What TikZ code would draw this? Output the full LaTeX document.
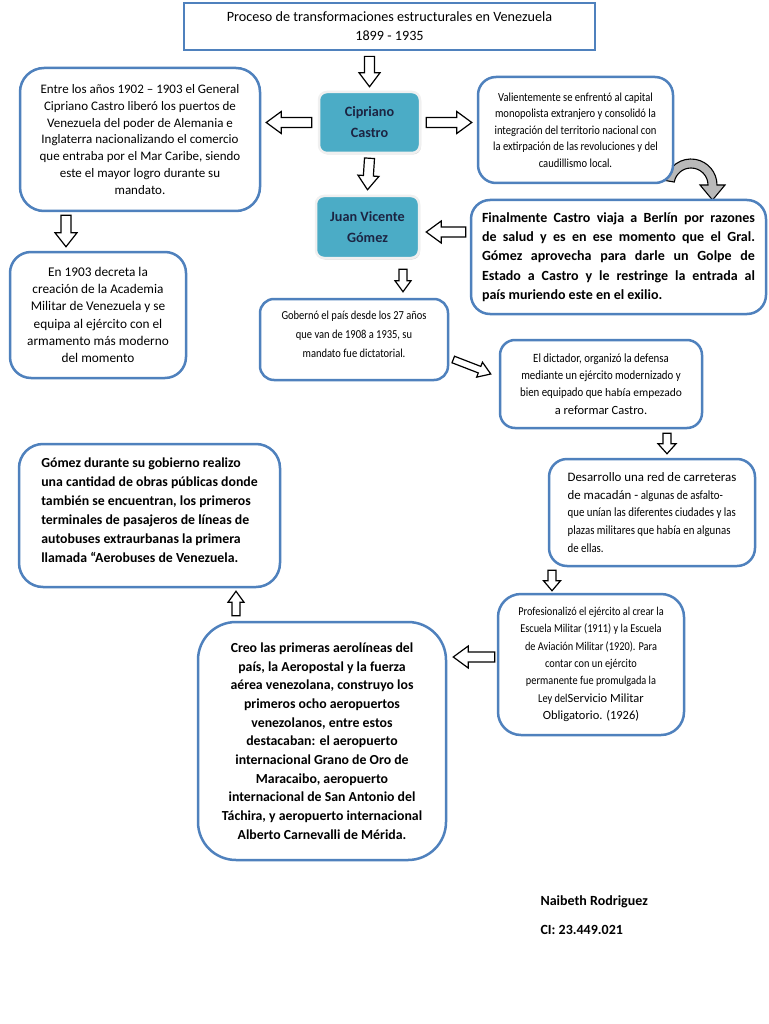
\documentclass[tikz,border=0pt]{standalone}
\usepackage{fontspec}
\setmainfont{Carlito}
\newfontfamily\narrowfont[FakeStretch=0.86]{Carlito}
\usetikzlibrary{calc,shadows}

\definecolor{boxblue}{RGB}{79,129,189}
\definecolor{cyanbox}{RGB}{75,172,198}
\definecolor{darktxt}{RGB}{28,36,66}

\tikzset{
  nota/.style={draw=boxblue, line width=2.5pt, fill=white, align=center, inner sep=0pt},
  prota/.style={draw=gray!12, line width=2.5pt, fill=cyanbox, rounded corners=8pt,
    drop shadow={opacity=0.3, shadow xshift=1pt, shadow yshift=-1.5pt},
    text=darktxt, align=center, font=\fontsize{14.2}{21}\selectfont\bfseries},
  barrow/.style n args={3}{draw=black, line width=1.2pt, fill=white, line join=miter,
    to path={($(\tikztotarget)!#3!(\tikztostart)$) coordinate (bh)
      ($(\tikztostart)!#1!90:(\tikztotarget)$) -- ($(bh)!#1!90:(\tikztotarget)$)
      -- ($(bh)!#2!90:(\tikztotarget)$) -- (\tikztotarget)
      -- ($(bh)!#2!-90:(\tikztotarget)$) -- ($(bh)!#1!-90:(\tikztotarget)$)
      -- ($(\tikztostart)!#1!-90:(\tikztotarget)$) -- cycle}},
}

\begin{document}
\begin{tikzpicture}[x=1pt,y=1pt]
%%%%% START %%%%%

\fill[white] (0,0) rectangle (768,-1024);
\useasboundingbox (0,0) rectangle (768,-1024);

% titulo
\node[draw=boxblue, line width=2.8pt, minimum width=411pt, minimum height=47pt, inner sep=0pt,
  align=center, font=\fontsize{14.2}{19}\selectfont] (tit) at (389.5,-26.5)
  {Proceso de transformaciones estructurales en Venezuela\\1899 - 1935};

% presidentes
\node[prota, minimum width=101pt, minimum height=61pt] (cip) at (369.5,-122.5) {Cipriano\\Castro};
\node[prota, minimum width=103pt, minimum height=62pt] (juan) at (367.5,-227) {Juan Vicente\\Gómez};

% flecha curva
\draw[fill=gray!55, line width=1.1pt, line join=miter] (691,-185) ++(170:26) arc[start angle=170, end angle=0, radius=26]
  -- ++(8,0) -- (712.5,-200) -- (700,-185) -- (708,-185) arc[start angle=0, end angle=170, radius=17] -- cycle;

% notas de Castro
\node[nota, rounded corners=24pt, minimum width=240pt, minimum height=143pt,
  font=\fontsize{13}{16.7}\selectfont] (castro1) at (140,-139.5)
  {Entre los años 1902 – 1903 el General\\Cipriano Castro liberó los puertos de\\Venezuela del poder de Alemania e\\Inglaterra nacionalizando el comercio\\que entraba por el Mar Caribe, siendo\\este el mayor logro durante su\\mandato.};
\node[nota, rounded corners=18pt, minimum width=195pt, minimum height=106pt,
  font=\narrowfont\fontsize{12.3}{16.5}\selectfont] (castro2) at (575.5,-130)
  {Valientemente se enfrentó al capital\\monopolista extranjero y consolidó la\\integración del territorio nacional con\\la extirpación de las revoluciones y del\\caudillismo local.};
\node[nota, rounded corners=21pt, minimum width=176pt, minimum height=126pt,
  font=\fontsize{13.3}{17.3}\selectfont] (academia) at (98,-315)
  {En 1903 decreta la\\creación de la Academia\\Militar de Venezuela y se\\equipa al ejército con el\\armamento más moderno\\del momento};
\node[nota, rounded corners=19pt, minimum width=295pt, minimum height=114pt, align=left,
  font=\fontsize{14}{19.3}\selectfont\bfseries] (final) at (618.5,-257)
  {\makebox[273pt][s]{Finalmente Castro viaja a Berlín por razones}\\
   \makebox[273pt][s]{de salud y es en ese momento que el Gral.}\\
   \makebox[273pt][s]{Gómez aprovecha para darle un Golpe de}\\
   \makebox[273pt][s]{Estado a Castro y le restringe la entrada al}\\
   país muriendo este en el exilio.};

% notas de Gomez
\node[nota, rounded corners=14pt, minimum width=188pt, minimum height=81pt,
  font=\narrowfont\fontsize{12.2}{19}\selectfont] (gobierno) at (354,-339.5)
  {Gobernó el país desde los 27 años\\que van de 1908 a 1935, su\\mandato fue dictatorial.\\[-9pt]};
\node[nota, rounded corners=15pt, minimum width=202pt, minimum height=88pt,
  font=\narrowfont\fontsize{12.6}{17.3}\selectfont] (defensa) at (601,-384)
  {El dictador, organizó la defensa\\mediante un ejército modernizado y\\bien equipado que {\rmfamily\fontsize{11.5}{17.3}\selectfont había empezado}\\{\rmfamily\fontsize{12.5}{17.3}\selectfont a reformar Castro.}};
\node[nota, rounded corners=18pt, minimum width=206pt, minimum height=107pt, align=left,
  font=\narrowfont\fontsize{12.6}{17.7}\selectfont] (carreteras) at (652,-512.5)
  {{\rmfamily\fontsize{12.9}{17.7}\selectfont Desarrollo una red de carreteras}\\{\rmfamily\fontsize{12.9}{17.7}\selectfont de macadán -} algunas de asfalto-\\que unían las diferentes ciudades y las\\plazas militares que había en algunas\\de ellas.};
\node[nota, rounded corners=23pt, minimum width=186pt, minimum height=141pt,
  font=\narrowfont\fontsize{12}{17.3}\selectfont] (ejercito) at (591,-664.5)
  {Profesionalizó el ejército al crear la\\Escuela Militar (1911) y la Escuela\\de Aviación Militar (1920). Para\\contar con un ejército\\permanente fue promulgada la\\Ley del{\rmfamily\fontsize{12.5}{17.3}\selectfont Servicio Militar}\\{\rmfamily\fontsize{12.5}{17.3}\selectfont Obligatorio. (1926)}};
\node[nota, rounded corners=38pt, minimum width=248pt, minimum height=238pt,
  font=\fontsize{13.8}{18.7}\selectfont\bfseries] (aviacion) at (322,-741)
  {Creo las primeras aerolíneas del\\país, la Aeropostal  y la fuerza\\aérea venezolana, construyo los\\primeros ocho aeropuertos\\venezolanos, entre estos\\destacaban: el aeropuerto\\internacional Grano de Oro de\\Maracaibo, aeropuerto\\internacional de San Antonio del\\Táchira, y aeropuerto internacional\\Alberto Carnevalli de Mérida.};
\node[nota, rounded corners=24pt, minimum width=261pt, minimum height=143pt, align=left,
  font=\fontsize{13.8}{19}\selectfont\bfseries] (obras) at (149.5,-515.5)
  {Gómez durante su gobierno realizo\\una cantidad de obras públicas donde\\también se encuentran, los primeros\\terminales de pasajeros de líneas de\\autobuses extraurbanas la primera\\llamada “Aerobuses de Venezuela.\\[-8pt]};

% firma
\node[anchor=base west, font=\fontsize{14}{16}\selectfont\bfseries] (nombre) at (537,-905) {Naibeth Rodriguez};
\node[anchor=base west, font=\fontsize{14}{16}\selectfont\bfseries] (cedula) at (537,-934) {CI: 23.449.021};

% flechas
\coordinate (a1s) at ($(cip.north |- tit.south)+(0,-5)$);
\coordinate (a1e) at ($(cip.north)+(0,4)$);
\draw[barrow={5pt}{10.5pt}{14pt}] (a1s) to (a1e);

\coordinate (a2s) at ($(cip.west)+(-6,0)$);
\coordinate (a2e) at ($(cip.west -| castro1.east)+(5,0)$);
\draw[barrow={5pt}{11pt}{15pt}] (a2s) to (a2e);

\coordinate (a3s) at ($(cip.east)+(5,0)$);
\coordinate (a3e) at ($(cip.east -| castro2.west)+(-5,0)$);
\draw[barrow={5pt}{11pt}{15pt}] (a3s) to (a3e);

\coordinate (a4s) at ($(cip.south)+(0,-4)$);
\coordinate (a4e) at ($(juan.north)+(0,5)$);
\draw[barrow={5pt}{10.5pt}{14pt}] (a4s) to (a4e);

\coordinate (a5s) at ($(juan.east -| final.west)+(-4,-5)$);
\coordinate (a5e) at ($(juan.east)+(6,-5)$);
\draw[barrow={5pt}{11pt}{15pt}] (a5s) to (a5e);

\coordinate (a6s) at ($(castro1.south)+(-74,-3)$);
\coordinate (a6e) at ($(academia.north)+(-32,4)$);
\draw[barrow={5pt}{11pt}{14pt}] (a6s) to (a6e);

\coordinate (a7s) at ($(juan.south)+(35.5,-10)$);
\coordinate (a7e) at ($(gobierno.north)+(49,6)$);
\draw[barrow={4pt}{8pt}{11pt}] (a7s) to (a7e);

\coordinate (a8s) at ($(gobierno.east)+(4,-20)$);
\coordinate (a8e) at ($(defensa.west)+(-8,10)$);
\draw[barrow={3.5pt}{8pt}{12pt}] (a8s) to (a8e);

\coordinate (a9s) at ($(defensa.south)+(66,-4)$);
\coordinate (a9e) at ($(carreteras.north)+(15,4)$);
\draw[barrow={4pt}{9pt}{10pt}] (a9s) to (a9e);

\coordinate (a10s) at ($(carreteras.south)+(-100,-3)$);
\coordinate (a10e) at ($(ejercito.north)+(-39,2)$);
\draw[barrow={4pt}{8.5pt}{10pt}] (a10s) to (a10e);

\coordinate (a11s) at ($(ejercito.west)+(-2,7.5)$);
\coordinate (a11e) at ($(ejercito.west -| aviacion.east)+(6,7.5)$);
\draw[barrow={5pt}{11pt}{15pt}] (a11s) to (a11e);

\coordinate (a12s) at ($(aviacion.north)+(-86,5)$);
\coordinate (a12e) at ($(obras.south)+(86.5,-3)$);
\draw[barrow={4pt}{8pt}{11pt}] (a12s) to (a12e);

%%%%% END %%%%%
\end{tikzpicture}
\end{document}
